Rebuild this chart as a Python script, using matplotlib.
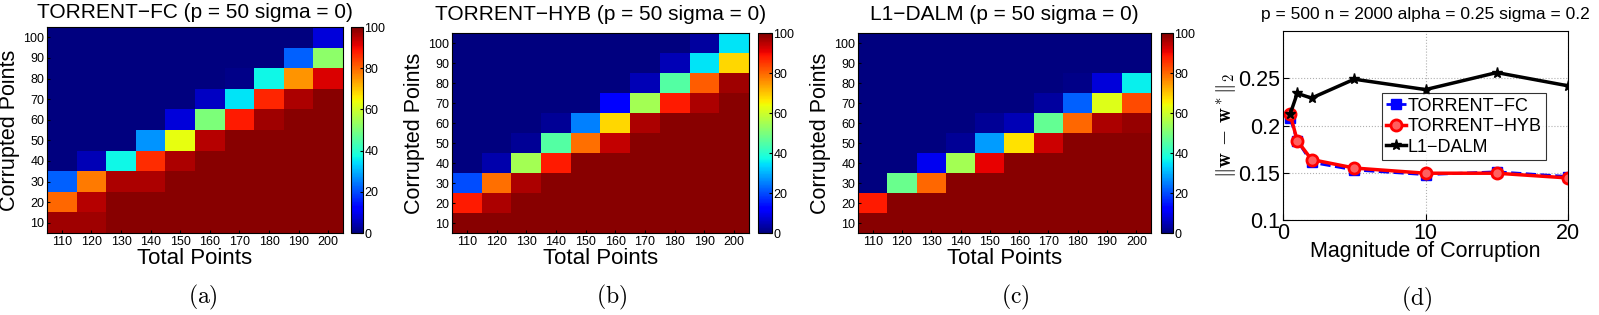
import numpy as np
import matplotlib.pyplot as plt

plt.rcParams['font.family'] = ['Liberation Sans', 'DejaVu Sans']
plt.rcParams['mathtext.fontset'] = 'cm'

total_points = [110, 120, 130, 140, 150, 160, 170, 180, 190, 200]
corrupted_points = [10, 20, 30, 40, 50, 60, 70, 80, 90, 100]

# recovery rate (%), rows = corrupted 10..100, cols = total 110..200
torrent_fc = [
    [97, 97, 99, 99, 99, 99, 99, 99, 99, 99],
    [80, 95, 99, 99, 99, 99, 99, 99, 99, 99],
    [22, 78, 96, 96, 99, 99, 99, 99, 99, 99],
    [0, 5, 37, 86, 96, 99, 99, 99, 99, 99],
    [0, 0, 0, 27, 63, 95, 99, 99, 99, 99],
    [0, 0, 0, 0, 8, 50, 88, 97, 99, 99],
    [0, 0, 0, 0, 0, 6, 35, 87, 96, 99],
    [0, 0, 0, 0, 0, 0, 1, 37, 75, 92],
    [0, 0, 0, 0, 0, 0, 0, 0, 22, 52],
    [0, 0, 0, 0, 0, 0, 0, 0, 0, 8],
]
torrent_hyb = [
    [99, 99, 99, 99, 99, 99, 99, 99, 99, 99],
    [88, 96, 99, 99, 99, 99, 99, 99, 99, 99],
    [20, 79, 96, 99, 99, 99, 99, 99, 99, 99],
    [0, 4, 55, 88, 99, 99, 99, 99, 99, 99],
    [0, 0, 2, 45, 79, 94, 99, 99, 99, 99],
    [0, 0, 0, 2, 25, 68, 96, 99, 99, 99],
    [0, 0, 0, 0, 0, 12, 55, 88, 96, 99],
    [0, 0, 0, 0, 0, 0, 5, 45, 81, 97],
    [0, 0, 0, 0, 0, 0, 0, 5, 35, 68],
    [0, 0, 0, 0, 0, 0, 0, 0, 3, 35],
]
l1_dalm = [
    [99, 99, 99, 99, 99, 99, 99, 99, 99, 99],
    [88, 99, 99, 99, 99, 99, 99, 99, 99, 99],
    [0, 48, 80, 99, 99, 99, 99, 99, 99, 99],
    [0, 0, 10, 55, 91, 99, 99, 99, 99, 99],
    [0, 0, 0, 2, 28, 67, 93, 99, 99, 99],
    [0, 0, 0, 0, 2, 5, 47, 80, 96, 98],
    [0, 0, 0, 0, 0, 0, 3, 22, 62, 83],
    [0, 0, 0, 0, 0, 0, 0, 1, 8, 36],
    [0, 0, 0, 0, 0, 0, 0, 0, 0, 0],
    [0, 0, 0, 0, 0, 0, 0, 0, 0, 0],
]

magnitude = [0.5, 1, 2, 5, 10, 15, 20]
err_fc = [0.208, 0.184, 0.161, 0.153, 0.148, 0.151, 0.146]
err_hyb = [0.212, 0.184, 0.164, 0.155, 0.1495, 0.1495, 0.1445]
err_dalm = [0.212, 0.234, 0.229, 0.249, 0.238, 0.256, 0.242]

W, H = 1599, 315
fig = plt.figure(figsize=(W / 100, H / 100), dpi=100)


def box(x0, y0, x1, y1):
    return [x0 / W, 1 - y1 / H, (x1 - x0) / W, (y1 - y0) / H]


heat_panels = [
    ("TORRENT\u2212FC (p = 50 sigma = 0)", torrent_fc, box(47, 27, 343, 233), box(351, 27, 363, 233), 13, 203, '(a)'),
    ("TORRENT\u2212HYB (p = 50 sigma = 0)", torrent_hyb, box(452, 33, 749, 233), box(758, 33, 772, 233), 15, 612, '(b)'),
    ("L1\u2212DALM (p = 50 sigma = 0)", l1_dalm, box(858, 33, 1151, 233), box(1161, 33, 1173, 233), 15, 1015, '(c)'),
]

for title, vals, ax_box, cb_box, ty, capx, cap in heat_panels:
    ax = fig.add_axes(ax_box)
    im = ax.imshow(np.array(vals), origin='lower', cmap='jet', vmin=0, vmax=100,
                   aspect='auto', interpolation='nearest',
                   extent=[105, 205, 5, 105])
    ax.set_xticks(total_points)
    ax.set_yticks(corrupted_points)
    ax.tick_params(labelsize=9, length=2, direction='in', pad=2)
    ax.set_xlabel('Total Points', fontsize=16, labelpad=0)
    ax.set_ylabel('Corrupted Points', fontsize=15.5, labelpad=2)
    fig.text((ax_box[0] + ax_box[2] / 2), 1 - ty / H, title, fontsize=15,
             ha='center', va='center')
    cax = fig.add_axes(cb_box)
    cb = fig.colorbar(im, cax=cax, ticks=[0, 20, 40, 60, 80, 100])
    cb.ax.tick_params(labelsize=9, length=2, direction='in', pad=1)
    cb.outline.set_linewidth(0.8)
    fig.text(capx / W, 1 - 297 / H, r'$\mathrm{' + cap + '}$', fontsize=17,
             ha='center', va='center')

# panel (d)
ax = fig.add_axes(box(1283, 31, 1568, 220))
ax.plot(magnitude, err_fc, color='blue', linestyle='--', linewidth=2,
        marker='s', markersize=7, markerfacecolor='blue', label='TORRENT\u2212FC')
ax.plot(magnitude, err_hyb, color='red', linestyle='-', linewidth=2.5,
        marker='o', markersize=8, markerfacecolor='#ff6060', markeredgewidth=2,
        label='TORRENT\u2212HYB')
ax.plot(magnitude, err_dalm, color='black', linestyle='-', linewidth=2.5,
        marker='*', markersize=8, label='L1\u2212DALM')
ax.set_xlim(0, 20)
ax.set_ylim(0.1, 0.3)
ax.set_xticks([0, 10, 20])
ax.set_yticks([0.1, 0.15, 0.2, 0.25])
ax.set_yticklabels(['0.1', '0.15', '0.2', '0.25'])
ax.grid(True, linestyle=':', color='#b0b0b0', linewidth=0.8)
ax.tick_params(labelsize=15.5, direction='in', length=4, pad=2)
ax.set_xlabel('Magnitude of Corruption', fontsize=15.5, labelpad=-2)
ax.set_ylabel(r'$\|\mathbf{w}\,-\,\mathbf{w}^*\|_2$', fontsize=15, labelpad=0)
ax.set_title('p = 500 n = 2000 alpha = 0.25 sigma = 0.2', fontsize=12.5, pad=9)
leg = ax.legend(loc='upper left', bbox_to_anchor=(0.347, 0.672), fontsize=13,
                frameon=True, fancybox=False, edgecolor='black',
                handlelength=1.1, handletextpad=0.05, borderpad=0.25,
                labelspacing=0.2, borderaxespad=0)
leg.get_frame().set_linewidth(0.8)
fig.text(1417 / W, 1 - 299 / H, r'$\mathrm{(d)}$', fontsize=17,
         ha='center', va='center')

fig.savefig('out.png', dpi=100)
